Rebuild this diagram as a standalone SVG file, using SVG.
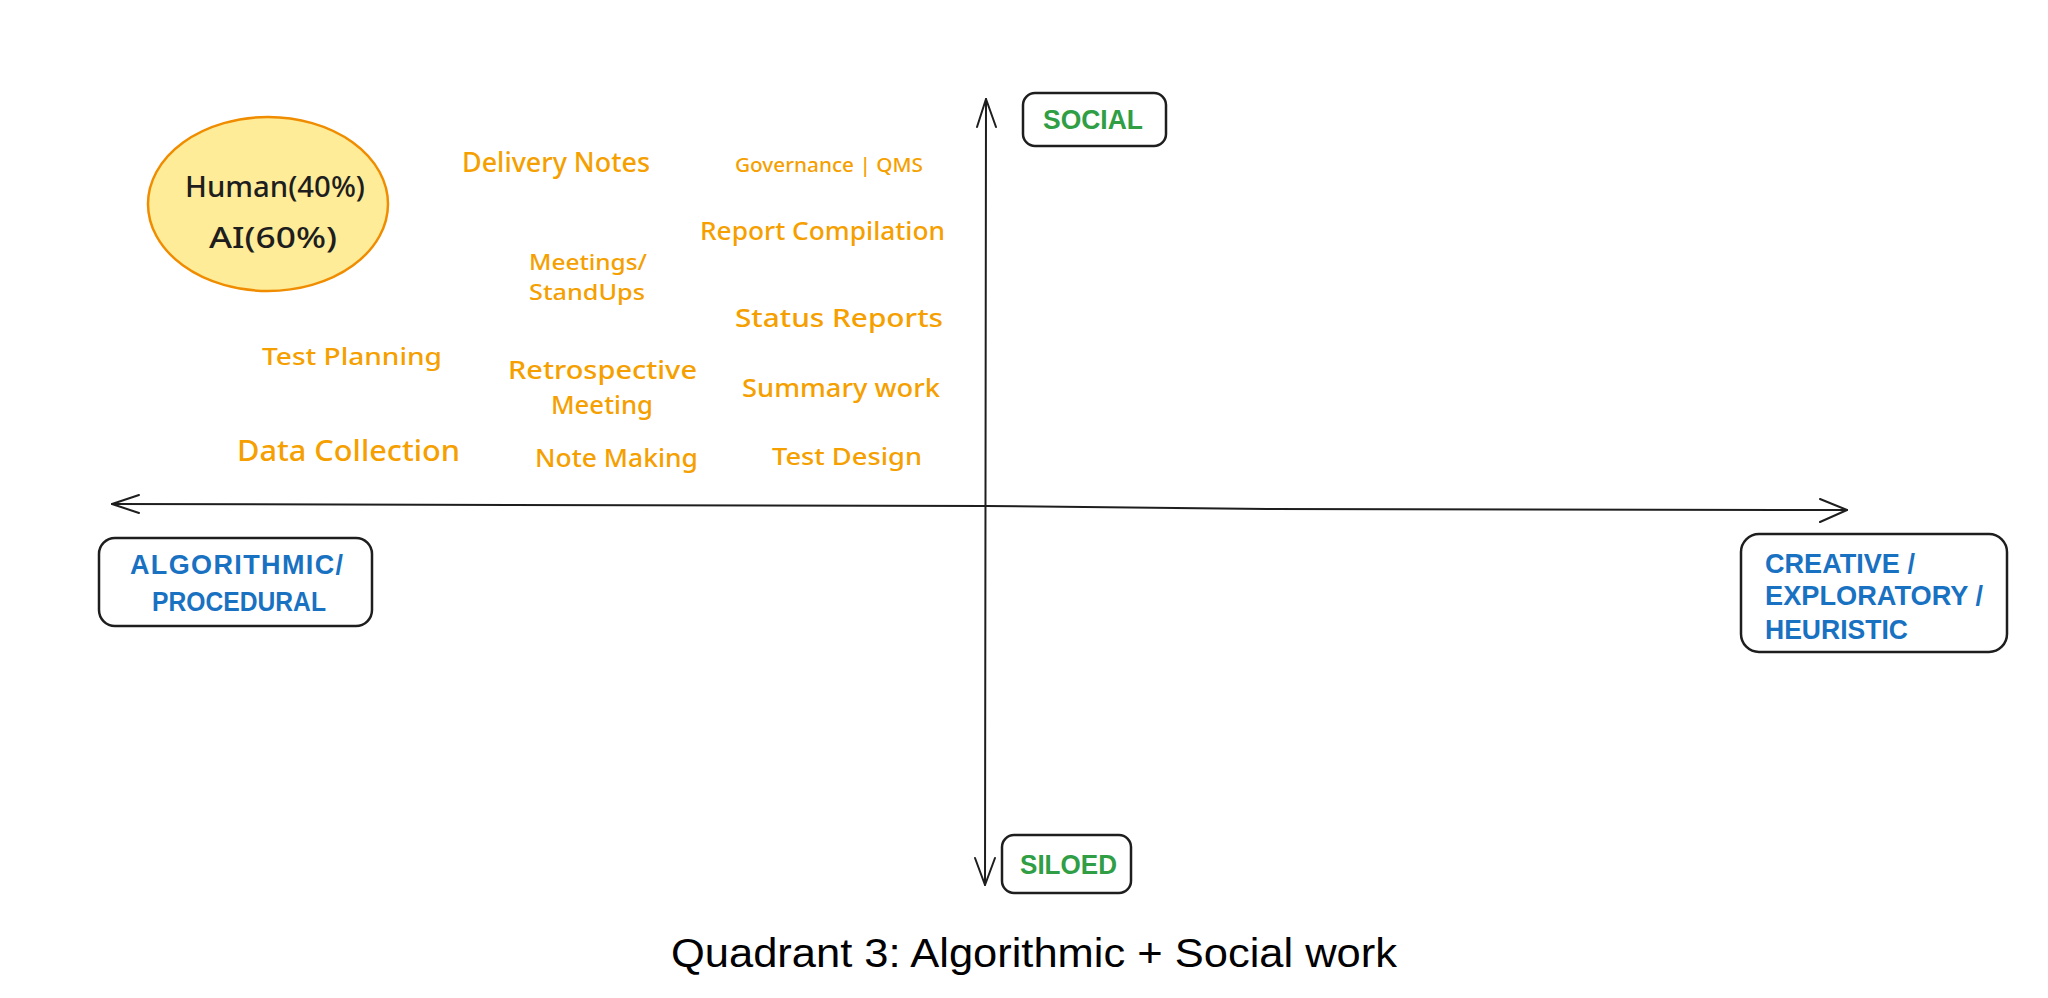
<svg xmlns="http://www.w3.org/2000/svg" width="2048" height="998" viewBox="0 0 2048 998">
<style>
.bg{fill:#ffffff}
.hw{font-family:"Noto Sans","Liberation Sans",sans-serif;fill:#f59f00;font-weight:500}
.blk{font-family:"Noto Sans","Liberation Sans",sans-serif;fill:#1e1e1e;font-weight:500}
.lbl{font-family:"Liberation Sans","Noto Sans",sans-serif;font-weight:bold}
.blue{fill:#1971c2}
.green{fill:#2f9e44}
.box{fill:#ffffff;stroke:#1e1e1e;stroke-width:2.5}
.ax{fill:none;stroke:#1e1e1e;stroke-width:2;stroke-linecap:round;stroke-linejoin:round}
.cap{font-family:"Liberation Sans",Arial,sans-serif;fill:#000000}
</style>
<rect class="bg" x="0" y="0" width="2048" height="998"/>

<g id="connectors">
  <path class="ax" d="M112,504 L986,506 L1267,509 L1847,510"/>
  <path class="ax" d="M139,495 L112,504 L139,513"/>
  <path class="ax" d="M1820,499 L1847,510 L1820,522"/>
  <path class="ax" d="M986,99 L985,885"/>
  <path class="ax" d="M977,127 L986,99 L996,127"/>
  <path class="ax" d="M975,858 L985,885 L995,858"/>
</g>

<g id="node-ratio">
  <ellipse cx="268" cy="204" rx="120" ry="87" fill="#ffec99" stroke="#f08c00" stroke-width="2.5"/>
  <text class="blk" x="185" y="197" font-size="28" textLength="180" lengthAdjust="spacingAndGlyphs">Human(40%)</text>
  <text class="blk" x="209" y="248" font-size="28" textLength="128" lengthAdjust="spacingAndGlyphs">AI(60%)</text>
</g>

<g id="node-delivery-notes"><text class="hw" x="462" y="172" font-size="27" textLength="188" lengthAdjust="spacingAndGlyphs">Delivery Notes</text></g>
<g id="node-governance"><text class="hw" x="735" y="172" font-size="19" textLength="188" lengthAdjust="spacingAndGlyphs">Governance | QMS</text></g>
<g id="node-report-compilation"><text class="hw" x="700" y="240" font-size="25" textLength="245" lengthAdjust="spacingAndGlyphs">Report Compilation</text></g>
<g id="node-meetings">
  <text class="hw" x="529" y="270" font-size="22" textLength="118" lengthAdjust="spacingAndGlyphs">Meetings/</text>
  <text class="hw" x="529" y="300" font-size="22" textLength="116" lengthAdjust="spacingAndGlyphs">StandUps</text>
</g>
<g id="node-status-reports"><text class="hw" x="735" y="327" font-size="25" textLength="208" lengthAdjust="spacingAndGlyphs">Status Reports</text></g>
<g id="node-test-planning"><text class="hw" x="262" y="365" font-size="24" textLength="180" lengthAdjust="spacingAndGlyphs">Test Planning</text></g>
<g id="node-retrospective">
  <text class="hw" x="508" y="379" font-size="25" textLength="189" lengthAdjust="spacingAndGlyphs">Retrospective</text>
  <text class="hw" x="551" y="414" font-size="25" textLength="102" lengthAdjust="spacingAndGlyphs">Meeting</text>
</g>
<g id="node-summary-work"><text class="hw" x="742" y="397" font-size="25" textLength="198" lengthAdjust="spacingAndGlyphs">Summary work</text></g>
<g id="node-data-collection"><text class="hw" x="237" y="461" font-size="28" textLength="223" lengthAdjust="spacingAndGlyphs">Data Collection</text></g>
<g id="node-note-making"><text class="hw" x="535" y="467" font-size="26" textLength="163" lengthAdjust="spacingAndGlyphs">Note Making</text></g>
<g id="node-test-design"><text class="hw" x="772" y="465" font-size="24" textLength="150" lengthAdjust="spacingAndGlyphs">Test Design</text></g>

<g id="node-social">
  <rect class="box" x="1023" y="93" width="143" height="53" rx="12"/>
  <text class="lbl green" x="1043" y="129" font-size="27" textLength="100" lengthAdjust="spacingAndGlyphs">SOCIAL</text>
</g>
<g id="node-siloed">
  <rect class="box" x="1002" y="835" width="129" height="58" rx="12"/>
  <text class="lbl green" x="1020" y="874" font-size="27" textLength="97" lengthAdjust="spacingAndGlyphs">SILOED</text>
</g>
<g id="node-algorithmic">
  <rect class="box" x="99" y="538" width="273" height="88" rx="16"/>
  <text class="lbl blue" x="130" y="574" font-size="27" textLength="213" lengthAdjust="spacing">ALGORITHMIC/</text>
  <text class="lbl blue" x="152" y="611" font-size="27" textLength="174" lengthAdjust="spacingAndGlyphs">PROCEDURAL</text>
</g>
<g id="node-creative">
  <rect class="box" x="1741" y="534" width="266" height="118" rx="18"/>
  <text class="lbl blue" x="1765" y="573" font-size="28" textLength="150" lengthAdjust="spacingAndGlyphs">CREATIVE /</text>
  <text class="lbl blue" x="1765" y="605" font-size="28" textLength="218" lengthAdjust="spacingAndGlyphs">EXPLORATORY /</text>
  <text class="lbl blue" x="1765" y="639" font-size="28" textLength="143" lengthAdjust="spacingAndGlyphs">HEURISTIC</text>
</g>

<g id="caption">
  <text class="cap" x="671" y="967" font-size="40" textLength="726" lengthAdjust="spacingAndGlyphs">Quadrant 3: Algorithmic + Social work</text>
</g>
</svg>
